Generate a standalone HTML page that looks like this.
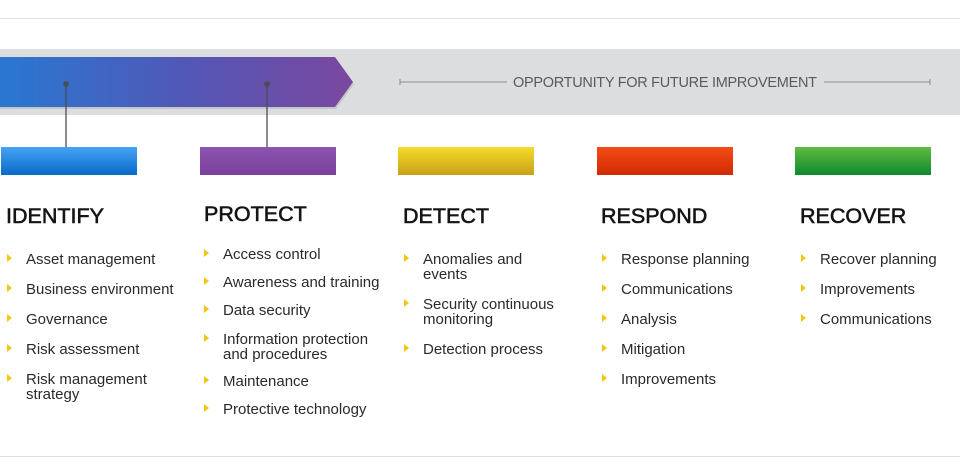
<!DOCTYPE html>
<html><head><meta charset="utf-8"><style>
body{margin:0;width:960px;height:476px;background:#fff;position:relative;overflow:hidden;font-family:"Liberation Sans",sans-serif}
.a{position:absolute}
.h{position:absolute;font-size:21.5px;font-weight:normal;-webkit-text-stroke:0.6px #151515;color:#151515;line-height:24px}
.i{position:absolute;font-size:15px;color:#2a2a2a;line-height:14.5px;white-space:nowrap}
.i:before{content:"";position:absolute;left:-19px;top:1px;border-left:5px solid #f3c614;border-top:4px solid transparent;border-bottom:4px solid transparent}
.box{position:absolute;top:147px;height:28px;width:136px}
</style></head><body>
<div class="a" style="left:0;top:18px;width:960px;height:1px;background:#e2e2e2"></div>
<div class="a" style="left:0;top:456px;width:960px;height:1px;background:#e2e2e2"></div>
<div class="a" style="left:0;top:49px;width:960px;height:66px;background:#dcdddf"></div>
<svg class="a" style="left:0;top:0" width="960" height="200">
<defs><linearGradient id="g" x1="0" x2="1"><stop offset="0" stop-color="#2878d2"/><stop offset="0.5" stop-color="#5059b8"/><stop offset="1" stop-color="#7b489f"/></linearGradient></defs>
<polygon points="0,59 336,59 354,84 336,109 0,109" fill="#999" opacity="0.35"/>
<polygon points="0,57 335,57 353,82 335,107 0,107" fill="url(#g)"/>
<line x1="66" y1="84" x2="66" y2="147" stroke="#4a4d55" stroke-width="1.3"/>
<line x1="267" y1="84" x2="267" y2="147" stroke="#4a4d55" stroke-width="1.3"/>
<circle cx="66" cy="84" r="2.8" fill="#4a4d55"/><circle cx="267" cy="84" r="2.8" fill="#4a4d55"/>
<line x1="400" y1="82" x2="507" y2="82" stroke="#8a8b8e" stroke-width="1"/>
<line x1="824" y1="82" x2="930" y2="82" stroke="#8a8b8e" stroke-width="1"/>
<line x1="400" y1="79" x2="400" y2="85" stroke="#8a8b8e"/><line x1="930" y1="79" x2="930" y2="85" stroke="#8a8b8e"/>
<text x="665" y="87" text-anchor="middle" font-family="Liberation Sans" font-size="14.5" fill="#5a5b5f" textLength="304">OPPORTUNITY FOR FUTURE IMPROVEMENT</text>
</svg>
<div class="box" style="left:1px;background:linear-gradient(#45a2f5,#0a6ac9)"></div>
<div class="box" style="left:200px;background:linear-gradient(#8b55b0,#7a3f9c)"></div>
<div class="box" style="left:398px;background:linear-gradient(#f5dc2c,#c9a019)"></div>
<div class="box" style="left:597px;background:linear-gradient(#f54d16,#cf2a04)"></div>
<div class="box" style="left:795px;background:linear-gradient(#62bb44,#0c8a2c)"></div>

<div class="h" style="left:6px;top:204px">IDENTIFY</div>
<div class="h" style="left:204px;top:202px">PROTECT</div>
<div class="h" style="left:403px;top:204px">DETECT</div>
<div class="h" style="left:601px;top:204px">RESPOND</div>
<div class="h" style="left:800px;top:204px">RECOVER</div>

<div class="i" style="left:26px;top:253px">Asset management</div>
<div class="i" style="left:26px;top:283px">Business environment</div>
<div class="i" style="left:26px;top:313px">Governance</div>
<div class="i" style="left:26px;top:343px">Risk assessment</div>
<div class="i" style="left:26px;top:373px">Risk management<br>strategy</div>

<div class="i" style="left:223px;top:248px">Access control</div>
<div class="i" style="left:223px;top:276px">Awareness and training</div>
<div class="i" style="left:223px;top:304px">Data security</div>
<div class="i" style="left:223px;top:333px">Information protection<br>and procedures</div>
<div class="i" style="left:223px;top:375px">Maintenance</div>
<div class="i" style="left:223px;top:403px">Protective technology</div>

<div class="i" style="left:423px;top:253px">Anomalies and<br>events</div>
<div class="i" style="left:423px;top:298px">Security continuous<br>monitoring</div>
<div class="i" style="left:423px;top:343px">Detection process</div>

<div class="i" style="left:621px;top:253px">Response planning</div>
<div class="i" style="left:621px;top:283px">Communications</div>
<div class="i" style="left:621px;top:313px">Analysis</div>
<div class="i" style="left:621px;top:343px">Mitigation</div>
<div class="i" style="left:621px;top:373px">Improvements</div>

<div class="i" style="left:820px;top:253px">Recover planning</div>
<div class="i" style="left:820px;top:283px">Improvements</div>
<div class="i" style="left:820px;top:313px">Communications</div>
</body></html>
